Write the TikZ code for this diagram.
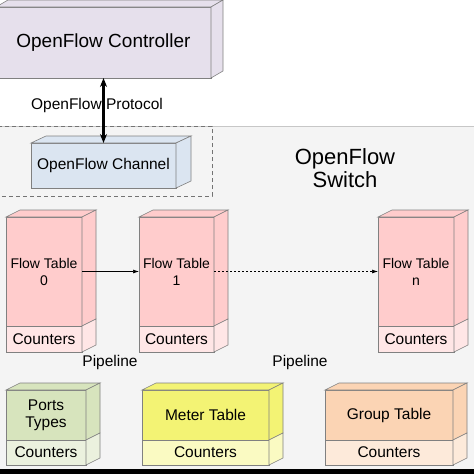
\documentclass[tikz,border=0pt]{standalone}
\usepackage{fontspec}
\setmainfont{Liberation Sans}
\usetikzlibrary{arrows.meta}
\definecolor{ctrlc}{HTML}{E6E0EC}
\definecolor{chanc}{HTML}{DBE5F1}
\definecolor{ftc}{HTML}{FFCCCC}
\definecolor{ftlc}{HTML}{FFE6E6}
\definecolor{portc}{HTML}{D7E4BD}
\definecolor{portlc}{HTML}{EBF1DE}
\definecolor{meterc}{HTML}{F3F374}
\definecolor{meterlc}{HTML}{FAFAC2}
\definecolor{groupc}{HTML}{FBD4B4}
\definecolor{grouplc}{HTML}{FDEADA}
\definecolor{swbg}{HTML}{F4F4F4}
\definecolor{edgec}{HTML}{808080}
\newcommand\cubetop[4]{% node, colour, dx, dy
  \filldraw[edgeline, fill=#2] (#1.north west) -- ([shift={(#3,-#4)}]#1.north west) -- ([shift={(#3,-#4)}]#1.north east) -- (#1.north east) -- cycle;
  \filldraw[edgeline, fill=#2] (#1.north east) -- ([shift={(#3,-#4)}]#1.north east) -- ([shift={(#3,-#4)}]#1.south east) -- (#1.south east) -- cycle;}
\newcommand\cubelow[4]{% node, colour, dx, dy
  \filldraw[edgeline, fill=#2] (#1.north east) -- ([shift={(#3,-#4)}]#1.north east) -- ([shift={(#3,-#4)}]#1.south east) -- (#1.south east) -- cycle;}
\begin{document}
\begin{tikzpicture}[x=1pt,y=-1pt,
  edgeline/.style={draw=edgec, line width=0.6pt},
  facebox/.style={edgeline, inner sep=0pt, outer sep=0pt, anchor=north west, align=center,
    font=\fontsize{15.5}{17}\selectfont},
  lbl/.style={inner sep=0pt, font=\fontsize{15.5}{17}\selectfont},
  flowarrow/.style={line width=0.7pt, -{Latex[length=6pt,width=4pt]}}]
\useasboundingbox (0,0) rectangle (474,474);
\clip (0,0) rectangle (474,474);
% switch background
\fill[swbg] (0,126) rectangle (474,469);
\draw[draw=black!22, line width=0.8pt] (0,126) -- (474,126);
\fill[black] (0,469) rectangle (474,474);
% dashed channel region
\draw[draw=black!55, line width=0.7pt, dash pattern=on 4pt off 3pt] (-5,126) rectangle (212,196);
% controller
\node[facebox, fill=ctrlc, minimum width=215pt, minimum height=71pt, font=\fontsize{19}{21}\selectfont] (ctrl) at (-4,7) {OpenFlow Controller};
\cubetop{ctrl}{ctrlc}{12}{7}
% channel
\node[facebox, fill=chanc, minimum width=145pt, minimum height=45pt] (chan) at (31,143) {OpenFlow Channel};
\cubetop{chan}{chanc}{15}{7}
% protocol label and arrow
\node[lbl] (proto) at (97,105) {OpenFlow Protocol};
\draw[line width=2.3pt, {Stealth[length=9pt,width=7pt]}-{Stealth[length=9pt,width=7pt]}] (ctrl.south -| chan.north) -- (chan.north);
% switch label
\node[align=center, inner sep=0pt, font=\fontsize{22}{23}\selectfont] (swlbl) at (345,168) {OpenFlow\\Switch};
% flow tables
\foreach \nm/\xx/\ww/\lab in {ft0/6/76/0, ft1/139/75/1, ftn/378/76/n}{
  \node[facebox, fill=ftc, minimum width=\ww pt, minimum height=109pt, font=\fontsize{14}{17}\selectfont] (\nm) at (\xx,217) {Flow Table\\\lab};
  \node[facebox, fill=ftlc, minimum width=\ww pt, minimum height=26pt] (\nm c) at (\nm.south west) {Counters};
  \cubetop{\nm}{ftc}{14}{7}
  \cubelow{\nm c}{ftlc}{14}{7}
}
\draw[flowarrow] (ft0.east) -- (ft1.west);
\draw[flowarrow, dash pattern=on 2pt off 2pt] (ft1.east) -- (ftn.west);
\node[lbl] (pipe1) at (110,362) {Pipeline};
\node[lbl] (pipe2) at (300,362) {Pipeline};
% bottom row
\node[facebox, fill=portc, minimum width=80pt, minimum height=50pt] (ports) at (6,390) {Ports\\Types};
\node[facebox, fill=portlc, minimum width=80pt, minimum height=25pt] (portsc) at (ports.south west) {Counters};
\cubetop{ports}{portc}{14}{7}
\cubelow{portsc}{portlc}{14}{7}
\node[facebox, fill=meterc, minimum width=127pt, minimum height=50pt] (meter) at (142,390) {Meter Table};
\node[facebox, fill=meterlc, minimum width=127pt, minimum height=25pt] (meterc) at (meter.south west) {Counters};
\cubetop{meter}{meterc}{14}{7}
\cubelow{meterc}{meterlc}{14}{7}
\node[facebox, fill=groupc, minimum width=128pt, minimum height=50pt] (group) at (325,390) {Group Table};
\node[facebox, fill=grouplc, minimum width=128pt, minimum height=25pt] (groupc) at (group.south west) {Counters};
\cubetop{group}{groupc}{14}{7}
\cubelow{groupc}{grouplc}{14}{7}
\end{tikzpicture}
\end{document}
